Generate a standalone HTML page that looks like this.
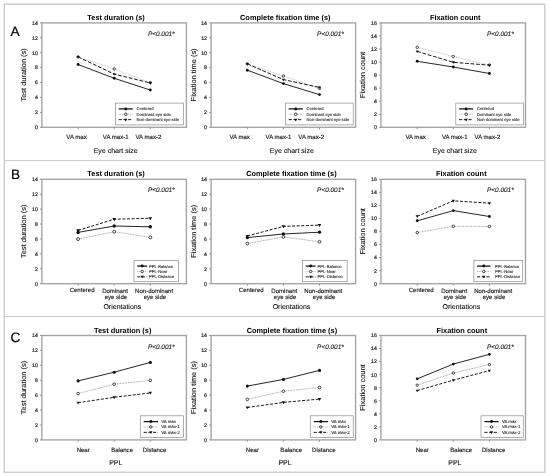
<!DOCTYPE html>
<html lang="en"><head><meta charset="utf-8"><title>Figure</title>
<style>html,body{margin:0;padding:0;background:#fff}body{width:550px;height:476px;overflow:hidden}svg{display:block;font-family:'Liberation Sans', sans-serif;text-rendering:geometricPrecision}</style>
</head><body>
<svg width="550" height="476" viewBox="0 0 550 476">
<rect x="0" y="0" width="550" height="476" fill="#fff"/>
<path d="M4.3 472.3V4.2H544.8V472.3" fill="none" stroke="#cdcdcd" stroke-width="1.4"/>
<line x1="3.6" y1="472.2" x2="545.5" y2="472.2" stroke="#bcbcbc" stroke-width="1.0"/>
<line x1="4.3" y1="160.65" x2="544.8" y2="160.65" stroke="#c4c4c4" stroke-width="0.9"/>
<line x1="4.3" y1="316.6" x2="544.8" y2="316.6" stroke="#c4c4c4" stroke-width="0.9"/>
<text x="10.6" y="36.4" font-size="13.6" text-anchor="start" font-weight="normal" font-style="normal" fill="#000" stroke="#000" stroke-width="0.2">A</text>
<text x="10.9" y="179.3" font-size="13.6" text-anchor="start" font-weight="normal" font-style="normal" fill="#000" stroke="#000" stroke-width="0.2">B</text>
<text x="10.6" y="342.3" font-size="13.6" text-anchor="start" font-weight="normal" font-style="normal" fill="#000" stroke="#000" stroke-width="0.2">C</text>
<g>
<rect x="41.9" y="22.9" width="144.5" height="104.4" fill="none" stroke="#a3a3a3" stroke-width="1.35"/>
<line x1="40" y1="127.3" x2="41.6" y2="127.3" stroke="#777" stroke-width="0.8"/>
<text x="37.8" y="129.15" font-size="5.2" text-anchor="end" font-weight="normal" font-style="normal" fill="#222" stroke="#222" stroke-width="0.18">0</text>
<line x1="40" y1="112.39" x2="41.6" y2="112.39" stroke="#777" stroke-width="0.8"/>
<text x="37.8" y="114.24" font-size="5.2" text-anchor="end" font-weight="normal" font-style="normal" fill="#222" stroke="#222" stroke-width="0.18">2</text>
<line x1="40" y1="97.47" x2="41.6" y2="97.47" stroke="#777" stroke-width="0.8"/>
<text x="37.8" y="99.32" font-size="5.2" text-anchor="end" font-weight="normal" font-style="normal" fill="#222" stroke="#222" stroke-width="0.18">4</text>
<line x1="40" y1="82.56" x2="41.6" y2="82.56" stroke="#777" stroke-width="0.8"/>
<text x="37.8" y="84.41" font-size="5.2" text-anchor="end" font-weight="normal" font-style="normal" fill="#222" stroke="#222" stroke-width="0.18">6</text>
<line x1="40" y1="67.64" x2="41.6" y2="67.64" stroke="#777" stroke-width="0.8"/>
<text x="37.8" y="69.49" font-size="5.2" text-anchor="end" font-weight="normal" font-style="normal" fill="#222" stroke="#222" stroke-width="0.18">8</text>
<line x1="40" y1="52.73" x2="41.6" y2="52.73" stroke="#777" stroke-width="0.8"/>
<text x="37.8" y="54.58" font-size="5.2" text-anchor="end" font-weight="normal" font-style="normal" fill="#222" stroke="#222" stroke-width="0.18">10</text>
<line x1="40" y1="37.81" x2="41.6" y2="37.81" stroke="#777" stroke-width="0.8"/>
<text x="37.8" y="39.66" font-size="5.2" text-anchor="end" font-weight="normal" font-style="normal" fill="#222" stroke="#222" stroke-width="0.18">12</text>
<line x1="40" y1="22.9" x2="41.6" y2="22.9" stroke="#777" stroke-width="0.8"/>
<text x="37.8" y="24.75" font-size="5.2" text-anchor="end" font-weight="normal" font-style="normal" fill="#222" stroke="#222" stroke-width="0.18">14</text>
<line x1="78.1" y1="127.6" x2="78.1" y2="129.2" stroke="#777" stroke-width="0.8"/>
<line x1="114.2" y1="127.6" x2="114.2" y2="129.2" stroke="#777" stroke-width="0.8"/>
<line x1="150.3" y1="127.6" x2="150.3" y2="129.2" stroke="#777" stroke-width="0.8"/>
<text x="116.1" y="19.95" font-size="7.42" text-anchor="middle" font-weight="bold" font-style="normal" fill="#000">Test duration (s)</text>
<text transform="translate(26.3 74.9) rotate(-90) scale(1.05 1)" font-size="7.1" text-anchor="middle" fill="#111" stroke="#111" stroke-width="0.1">Test duration (s)</text>
<text x="147.9" y="36" font-size="6.45" text-anchor="start" font-weight="normal" font-style="italic" fill="#111" stroke="#111" stroke-width="0.1">P&lt;0.001*</text>
<text x="76.5" y="138.6" font-size="6.05" text-anchor="middle" font-weight="normal" font-style="normal" fill="#222" stroke="#222" stroke-width="0.15">VA max</text>
<text x="115.7" y="138.6" font-size="6.05" text-anchor="middle" font-weight="normal" font-style="normal" fill="#222" stroke="#222" stroke-width="0.15">VA max-1</text>
<text x="148.4" y="138.6" font-size="6.05" text-anchor="middle" font-weight="normal" font-style="normal" fill="#222" stroke="#222" stroke-width="0.15">VA max-2</text>
<text x="115.7" y="152.5" font-size="7.0" text-anchor="middle" font-weight="normal" font-style="normal" fill="#111" stroke="#111" stroke-width="0.1">Eye chart size</text>
<polyline points="78.1,64.5 114.2,78.3 150.3,90" fill="none" stroke="#1a1a1a" stroke-width="0.95"/>
<polyline points="78.1,56.9 114.2,68.9 150.3,82.6" fill="none" stroke="#a8a8a8" stroke-width="0.7" stroke-dasharray="0.9 0.7"/>
<polyline points="78.1,56.9 114.2,74.1 150.3,83" fill="none" stroke="#1a1a1a" stroke-width="1.0" stroke-dasharray="3.8 1.7"/>
<circle cx="78.1" cy="64.5" r="1.44" fill="#111"/>
<circle cx="114.2" cy="78.3" r="1.44" fill="#111"/>
<circle cx="150.3" cy="90" r="1.44" fill="#111"/>
<circle cx="78.1" cy="56.9" r="1.22" fill="#fff" stroke="#222" stroke-width="0.85"/>
<circle cx="114.2" cy="68.9" r="1.22" fill="#fff" stroke="#222" stroke-width="0.85"/>
<circle cx="150.3" cy="82.6" r="1.22" fill="#fff" stroke="#222" stroke-width="0.85"/>
<polygon points="76.53,55.94 79.67,55.94 78.1,58.6" fill="#111"/>
<polygon points="112.63,73.14 115.77,73.14 114.2,75.8" fill="#111"/>
<polygon points="148.73,82.04 151.87,82.04 150.3,84.7" fill="#111"/>
<rect x="115.4" y="103.1" width="68.1" height="21.8" fill="#fff" stroke="#8c8c8c" stroke-width="0.7"/>
<polyline points="118.7,108.9 132.8,108.9" fill="none" stroke="#1a1a1a" stroke-width="1.3"/>
<circle cx="125.75" cy="108.9" r="1.48" fill="#111"/>
<text x="136.6" y="110.35" font-size="4.15" text-anchor="start" font-weight="normal" font-style="normal" fill="#333" stroke="#333" stroke-width="0.12">Centered</text>
<polyline points="118.7,114.25 132.8,114.25" fill="none" stroke="#999" stroke-width="0.75" stroke-dasharray="0.9 0.7"/>
<circle cx="125.75" cy="114.25" r="1.26" fill="#fff" stroke="#222" stroke-width="0.85"/>
<text x="136.6" y="115.7" font-size="4.15" text-anchor="start" font-weight="normal" font-style="normal" fill="#333" stroke="#333" stroke-width="0.12">Dominant eye side</text>
<polyline points="118.7,119.65 132.8,119.65" fill="none" stroke="#1a1a1a" stroke-width="1.0" stroke-dasharray="3.1 1.6"/>
<polygon points="124.13,118.66 127.37,118.66 125.75,121.4" fill="#111"/>
<text x="136.6" y="121.1" font-size="4.15" text-anchor="start" font-weight="normal" font-style="normal" fill="#333" stroke="#333" stroke-width="0.12">Non-dominant eye side</text>
</g>
<g>
<rect x="211.1" y="22.9" width="144.5" height="104.4" fill="none" stroke="#a3a3a3" stroke-width="1.35"/>
<line x1="209.2" y1="127.3" x2="210.8" y2="127.3" stroke="#777" stroke-width="0.8"/>
<text x="207" y="129.15" font-size="5.2" text-anchor="end" font-weight="normal" font-style="normal" fill="#222" stroke="#222" stroke-width="0.18">0</text>
<line x1="209.2" y1="112.39" x2="210.8" y2="112.39" stroke="#777" stroke-width="0.8"/>
<text x="207" y="114.24" font-size="5.2" text-anchor="end" font-weight="normal" font-style="normal" fill="#222" stroke="#222" stroke-width="0.18">2</text>
<line x1="209.2" y1="97.47" x2="210.8" y2="97.47" stroke="#777" stroke-width="0.8"/>
<text x="207" y="99.32" font-size="5.2" text-anchor="end" font-weight="normal" font-style="normal" fill="#222" stroke="#222" stroke-width="0.18">4</text>
<line x1="209.2" y1="82.56" x2="210.8" y2="82.56" stroke="#777" stroke-width="0.8"/>
<text x="207" y="84.41" font-size="5.2" text-anchor="end" font-weight="normal" font-style="normal" fill="#222" stroke="#222" stroke-width="0.18">6</text>
<line x1="209.2" y1="67.64" x2="210.8" y2="67.64" stroke="#777" stroke-width="0.8"/>
<text x="207" y="69.49" font-size="5.2" text-anchor="end" font-weight="normal" font-style="normal" fill="#222" stroke="#222" stroke-width="0.18">8</text>
<line x1="209.2" y1="52.73" x2="210.8" y2="52.73" stroke="#777" stroke-width="0.8"/>
<text x="207" y="54.58" font-size="5.2" text-anchor="end" font-weight="normal" font-style="normal" fill="#222" stroke="#222" stroke-width="0.18">10</text>
<line x1="209.2" y1="37.81" x2="210.8" y2="37.81" stroke="#777" stroke-width="0.8"/>
<text x="207" y="39.66" font-size="5.2" text-anchor="end" font-weight="normal" font-style="normal" fill="#222" stroke="#222" stroke-width="0.18">12</text>
<line x1="209.2" y1="22.9" x2="210.8" y2="22.9" stroke="#777" stroke-width="0.8"/>
<text x="207" y="24.75" font-size="5.2" text-anchor="end" font-weight="normal" font-style="normal" fill="#222" stroke="#222" stroke-width="0.18">14</text>
<line x1="247.3" y1="127.6" x2="247.3" y2="129.2" stroke="#777" stroke-width="0.8"/>
<line x1="283.4" y1="127.6" x2="283.4" y2="129.2" stroke="#777" stroke-width="0.8"/>
<line x1="319.5" y1="127.6" x2="319.5" y2="129.2" stroke="#777" stroke-width="0.8"/>
<text x="285.3" y="19.95" font-size="7.42" text-anchor="middle" font-weight="bold" font-style="normal" fill="#000">Complete fixation time (s)</text>
<text transform="translate(195.5 74.9) rotate(-90) scale(1.05 1)" font-size="7.1" text-anchor="middle" fill="#111" stroke="#111" stroke-width="0.1">Fixation time (s)</text>
<text x="317.1" y="36" font-size="6.45" text-anchor="start" font-weight="normal" font-style="italic" fill="#111" stroke="#111" stroke-width="0.1">P&lt;0.001*</text>
<text x="239.7" y="138.6" font-size="6.05" text-anchor="middle" font-weight="normal" font-style="normal" fill="#222" stroke="#222" stroke-width="0.15">VA max</text>
<text x="278.5" y="138.6" font-size="6.05" text-anchor="middle" font-weight="normal" font-style="normal" fill="#222" stroke="#222" stroke-width="0.15">VA max-1</text>
<text x="311.2" y="138.6" font-size="6.05" text-anchor="middle" font-weight="normal" font-style="normal" fill="#222" stroke="#222" stroke-width="0.15">VA max-2</text>
<text x="291.8" y="152.5" font-size="7.0" text-anchor="middle" font-weight="normal" font-style="normal" fill="#111" stroke="#111" stroke-width="0.1">Eye chart size</text>
<polyline points="247.3,70.2 283.4,83.6 319.5,94.6" fill="none" stroke="#1a1a1a" stroke-width="0.95"/>
<polyline points="247.3,63.9 283.4,76 319.5,88.4" fill="none" stroke="#a8a8a8" stroke-width="0.7" stroke-dasharray="0.9 0.7"/>
<polyline points="247.3,63.9 283.4,79.6 319.5,87.4" fill="none" stroke="#1a1a1a" stroke-width="1.0" stroke-dasharray="3.8 1.7"/>
<circle cx="247.3" cy="70.2" r="1.44" fill="#111"/>
<circle cx="283.4" cy="83.6" r="1.44" fill="#111"/>
<circle cx="319.5" cy="94.6" r="1.44" fill="#111"/>
<circle cx="247.3" cy="63.9" r="1.22" fill="#fff" stroke="#222" stroke-width="0.85"/>
<circle cx="283.4" cy="76" r="1.22" fill="#fff" stroke="#222" stroke-width="0.85"/>
<circle cx="319.5" cy="88.4" r="1.22" fill="#fff" stroke="#222" stroke-width="0.85"/>
<polygon points="245.73,62.94 248.87,62.94 247.3,65.6" fill="#111"/>
<polygon points="281.83,78.64 284.97,78.64 283.4,81.3" fill="#111"/>
<polygon points="317.93,86.44 321.07,86.44 319.5,89.1" fill="#111"/>
<rect x="285.4" y="103.1" width="67.8" height="21.8" fill="#fff" stroke="#8c8c8c" stroke-width="0.7"/>
<polyline points="288.7,108.9 302.8,108.9" fill="none" stroke="#1a1a1a" stroke-width="1.3"/>
<circle cx="295.75" cy="108.9" r="1.48" fill="#111"/>
<text x="306.6" y="110.35" font-size="4.15" text-anchor="start" font-weight="normal" font-style="normal" fill="#333" stroke="#333" stroke-width="0.12">Centered</text>
<polyline points="288.7,114.25 302.8,114.25" fill="none" stroke="#999" stroke-width="0.75" stroke-dasharray="0.9 0.7"/>
<circle cx="295.75" cy="114.25" r="1.26" fill="#fff" stroke="#222" stroke-width="0.85"/>
<text x="306.6" y="115.7" font-size="4.15" text-anchor="start" font-weight="normal" font-style="normal" fill="#333" stroke="#333" stroke-width="0.12">Dominant eye side</text>
<polyline points="288.7,119.65 302.8,119.65" fill="none" stroke="#1a1a1a" stroke-width="1.0" stroke-dasharray="3.1 1.6"/>
<polygon points="294.13,118.66 297.37,118.66 295.75,121.4" fill="#111"/>
<text x="306.6" y="121.1" font-size="4.15" text-anchor="start" font-weight="normal" font-style="normal" fill="#333" stroke="#333" stroke-width="0.12">Non-dominant eye side</text>
</g>
<g>
<rect x="381" y="22.9" width="144.5" height="104.4" fill="none" stroke="#a3a3a3" stroke-width="1.35"/>
<line x1="379.1" y1="127.3" x2="380.7" y2="127.3" stroke="#777" stroke-width="0.8"/>
<text x="376.9" y="129.15" font-size="5.2" text-anchor="end" font-weight="normal" font-style="normal" fill="#222" stroke="#222" stroke-width="0.18">0</text>
<line x1="379.1" y1="114.25" x2="380.7" y2="114.25" stroke="#777" stroke-width="0.8"/>
<text x="376.9" y="116.1" font-size="5.2" text-anchor="end" font-weight="normal" font-style="normal" fill="#222" stroke="#222" stroke-width="0.18">2</text>
<line x1="379.1" y1="101.2" x2="380.7" y2="101.2" stroke="#777" stroke-width="0.8"/>
<text x="376.9" y="103.05" font-size="5.2" text-anchor="end" font-weight="normal" font-style="normal" fill="#222" stroke="#222" stroke-width="0.18">4</text>
<line x1="379.1" y1="88.15" x2="380.7" y2="88.15" stroke="#777" stroke-width="0.8"/>
<text x="376.9" y="90" font-size="5.2" text-anchor="end" font-weight="normal" font-style="normal" fill="#222" stroke="#222" stroke-width="0.18">6</text>
<line x1="379.1" y1="75.1" x2="380.7" y2="75.1" stroke="#777" stroke-width="0.8"/>
<text x="376.9" y="76.95" font-size="5.2" text-anchor="end" font-weight="normal" font-style="normal" fill="#222" stroke="#222" stroke-width="0.18">8</text>
<line x1="379.1" y1="62.05" x2="380.7" y2="62.05" stroke="#777" stroke-width="0.8"/>
<text x="376.9" y="63.9" font-size="5.2" text-anchor="end" font-weight="normal" font-style="normal" fill="#222" stroke="#222" stroke-width="0.18">10</text>
<line x1="379.1" y1="49" x2="380.7" y2="49" stroke="#777" stroke-width="0.8"/>
<text x="376.9" y="50.85" font-size="5.2" text-anchor="end" font-weight="normal" font-style="normal" fill="#222" stroke="#222" stroke-width="0.18">12</text>
<line x1="379.1" y1="35.95" x2="380.7" y2="35.95" stroke="#777" stroke-width="0.8"/>
<text x="376.9" y="37.8" font-size="5.2" text-anchor="end" font-weight="normal" font-style="normal" fill="#222" stroke="#222" stroke-width="0.18">14</text>
<line x1="379.1" y1="22.9" x2="380.7" y2="22.9" stroke="#777" stroke-width="0.8"/>
<text x="376.9" y="24.75" font-size="5.2" text-anchor="end" font-weight="normal" font-style="normal" fill="#222" stroke="#222" stroke-width="0.18">16</text>
<line x1="417.2" y1="127.6" x2="417.2" y2="129.2" stroke="#777" stroke-width="0.8"/>
<line x1="453.3" y1="127.6" x2="453.3" y2="129.2" stroke="#777" stroke-width="0.8"/>
<line x1="489.4" y1="127.6" x2="489.4" y2="129.2" stroke="#777" stroke-width="0.8"/>
<text x="455.2" y="19.95" font-size="7.42" text-anchor="middle" font-weight="bold" font-style="normal" fill="#000">Fixation count</text>
<text transform="translate(365.4 74.9) rotate(-90) scale(1.05 1)" font-size="7.1" text-anchor="middle" fill="#111" stroke="#111" stroke-width="0.1">Fixation count</text>
<text x="487" y="36" font-size="6.45" text-anchor="start" font-weight="normal" font-style="italic" fill="#111" stroke="#111" stroke-width="0.1">P&lt;0.001*</text>
<text x="415.6" y="138.6" font-size="6.05" text-anchor="middle" font-weight="normal" font-style="normal" fill="#222" stroke="#222" stroke-width="0.15">VA max</text>
<text x="454.8" y="138.6" font-size="6.05" text-anchor="middle" font-weight="normal" font-style="normal" fill="#222" stroke="#222" stroke-width="0.15">VA max-1</text>
<text x="487.5" y="138.6" font-size="6.05" text-anchor="middle" font-weight="normal" font-style="normal" fill="#222" stroke="#222" stroke-width="0.15">VA max-2</text>
<text x="454.8" y="152.5" font-size="7.0" text-anchor="middle" font-weight="normal" font-style="normal" fill="#111" stroke="#111" stroke-width="0.1">Eye chart size</text>
<polyline points="417.2,61.3 453.3,67 489.4,73.5" fill="none" stroke="#1a1a1a" stroke-width="0.95"/>
<polyline points="417.2,47.3 453.3,56.5 489.4,65" fill="none" stroke="#a8a8a8" stroke-width="0.7" stroke-dasharray="0.9 0.7"/>
<polyline points="417.2,51.4 453.3,62.3 489.4,65.2" fill="none" stroke="#1a1a1a" stroke-width="1.0" stroke-dasharray="3.8 1.7"/>
<circle cx="417.2" cy="61.3" r="1.44" fill="#111"/>
<circle cx="453.3" cy="67" r="1.44" fill="#111"/>
<circle cx="489.4" cy="73.5" r="1.44" fill="#111"/>
<circle cx="417.2" cy="47.3" r="1.22" fill="#fff" stroke="#222" stroke-width="0.85"/>
<circle cx="453.3" cy="56.5" r="1.22" fill="#fff" stroke="#222" stroke-width="0.85"/>
<circle cx="489.4" cy="65" r="1.22" fill="#fff" stroke="#222" stroke-width="0.85"/>
<polygon points="415.63,50.44 418.77,50.44 417.2,53.1" fill="#111"/>
<polygon points="451.73,61.34 454.87,61.34 453.3,64" fill="#111"/>
<polygon points="487.83,64.24 490.97,64.24 489.4,66.9" fill="#111"/>
<rect x="455.8" y="103.1" width="67.7" height="21.8" fill="#fff" stroke="#8c8c8c" stroke-width="0.7"/>
<polyline points="459.1,108.9 473.2,108.9" fill="none" stroke="#1a1a1a" stroke-width="1.3"/>
<circle cx="466.15" cy="108.9" r="1.48" fill="#111"/>
<text x="477" y="110.35" font-size="4.15" text-anchor="start" font-weight="normal" font-style="normal" fill="#333" stroke="#333" stroke-width="0.12">Centered</text>
<polyline points="459.1,114.25 473.2,114.25" fill="none" stroke="#999" stroke-width="0.75" stroke-dasharray="0.9 0.7"/>
<circle cx="466.15" cy="114.25" r="1.26" fill="#fff" stroke="#222" stroke-width="0.85"/>
<text x="477" y="115.7" font-size="4.15" text-anchor="start" font-weight="normal" font-style="normal" fill="#333" stroke="#333" stroke-width="0.12">Dominant eye side</text>
<polyline points="459.1,119.65 473.2,119.65" fill="none" stroke="#1a1a1a" stroke-width="1.0" stroke-dasharray="3.1 1.6"/>
<polygon points="464.53,118.66 467.77,118.66 466.15,121.4" fill="#111"/>
<text x="477" y="121.1" font-size="4.15" text-anchor="start" font-weight="normal" font-style="normal" fill="#333" stroke="#333" stroke-width="0.12">Non-dominant eye side</text>
</g>
<g>
<rect x="41.9" y="179.3" width="144.5" height="104.4" fill="none" stroke="#a3a3a3" stroke-width="1.35"/>
<line x1="40" y1="283.7" x2="41.6" y2="283.7" stroke="#777" stroke-width="0.8"/>
<text x="37.8" y="285.55" font-size="5.2" text-anchor="end" font-weight="normal" font-style="normal" fill="#222" stroke="#222" stroke-width="0.18">0</text>
<line x1="40" y1="268.79" x2="41.6" y2="268.79" stroke="#777" stroke-width="0.8"/>
<text x="37.8" y="270.64" font-size="5.2" text-anchor="end" font-weight="normal" font-style="normal" fill="#222" stroke="#222" stroke-width="0.18">2</text>
<line x1="40" y1="253.87" x2="41.6" y2="253.87" stroke="#777" stroke-width="0.8"/>
<text x="37.8" y="255.72" font-size="5.2" text-anchor="end" font-weight="normal" font-style="normal" fill="#222" stroke="#222" stroke-width="0.18">4</text>
<line x1="40" y1="238.96" x2="41.6" y2="238.96" stroke="#777" stroke-width="0.8"/>
<text x="37.8" y="240.81" font-size="5.2" text-anchor="end" font-weight="normal" font-style="normal" fill="#222" stroke="#222" stroke-width="0.18">6</text>
<line x1="40" y1="224.04" x2="41.6" y2="224.04" stroke="#777" stroke-width="0.8"/>
<text x="37.8" y="225.89" font-size="5.2" text-anchor="end" font-weight="normal" font-style="normal" fill="#222" stroke="#222" stroke-width="0.18">8</text>
<line x1="40" y1="209.13" x2="41.6" y2="209.13" stroke="#777" stroke-width="0.8"/>
<text x="37.8" y="210.98" font-size="5.2" text-anchor="end" font-weight="normal" font-style="normal" fill="#222" stroke="#222" stroke-width="0.18">10</text>
<line x1="40" y1="194.21" x2="41.6" y2="194.21" stroke="#777" stroke-width="0.8"/>
<text x="37.8" y="196.06" font-size="5.2" text-anchor="end" font-weight="normal" font-style="normal" fill="#222" stroke="#222" stroke-width="0.18">12</text>
<line x1="40" y1="179.3" x2="41.6" y2="179.3" stroke="#777" stroke-width="0.8"/>
<text x="37.8" y="181.15" font-size="5.2" text-anchor="end" font-weight="normal" font-style="normal" fill="#222" stroke="#222" stroke-width="0.18">14</text>
<line x1="78.1" y1="284" x2="78.1" y2="285.6" stroke="#777" stroke-width="0.8"/>
<line x1="114.2" y1="284" x2="114.2" y2="285.6" stroke="#777" stroke-width="0.8"/>
<line x1="150.3" y1="284" x2="150.3" y2="285.6" stroke="#777" stroke-width="0.8"/>
<text x="116.1" y="176.35" font-size="7.42" text-anchor="middle" font-weight="bold" font-style="normal" fill="#000">Test duration (s)</text>
<text transform="translate(26.3 231.3) rotate(-90) scale(1.05 1)" font-size="7.1" text-anchor="middle" fill="#111" stroke="#111" stroke-width="0.1">Test duration (s)</text>
<text x="147.9" y="192.4" font-size="6.45" text-anchor="start" font-weight="normal" font-style="italic" fill="#111" stroke="#111" stroke-width="0.1">P&lt;0.001*</text>
<text x="82.1" y="291.9" font-size="6.05" text-anchor="middle" font-weight="normal" font-style="normal" fill="#222" stroke="#222" stroke-width="0.15">Centered</text>
<text x="115.1" y="292.5" font-size="6.05" text-anchor="middle" font-weight="normal" font-style="normal" fill="#222" stroke="#222" stroke-width="0.15">Dominant</text>
<text x="115.9" y="299.2" font-size="6.05" text-anchor="middle" font-weight="normal" font-style="normal" fill="#222" stroke="#222" stroke-width="0.15">eye side</text>
<text x="154.1" y="292.5" font-size="6.05" text-anchor="middle" font-weight="normal" font-style="normal" fill="#222" stroke="#222" stroke-width="0.15">Non-dominant</text>
<text x="154.9" y="299.2" font-size="6.05" text-anchor="middle" font-weight="normal" font-style="normal" fill="#222" stroke="#222" stroke-width="0.15">eye side</text>
<text x="122.3" y="308.9" font-size="7.0" text-anchor="middle" font-weight="normal" font-style="normal" fill="#111" stroke="#111" stroke-width="0.1">Orientations</text>
<polyline points="78.1,232.4 114.2,226 150.3,226.8" fill="none" stroke="#1a1a1a" stroke-width="0.95"/>
<polyline points="78.1,239.1 114.2,231.7 150.3,237.4" fill="none" stroke="#8c8c8c" stroke-width="0.8" stroke-dasharray="0.9 0.7"/>
<polyline points="78.1,230.4 114.2,219.2 150.3,218.3" fill="none" stroke="#1a1a1a" stroke-width="1.0" stroke-dasharray="3.0 1.6"/>
<circle cx="78.1" cy="232.4" r="1.73" fill="#111"/>
<circle cx="114.2" cy="226" r="1.73" fill="#111"/>
<circle cx="150.3" cy="226.8" r="1.73" fill="#111"/>
<circle cx="78.1" cy="239.1" r="1.47" fill="#fff" stroke="#222" stroke-width="0.85"/>
<circle cx="114.2" cy="231.7" r="1.47" fill="#fff" stroke="#222" stroke-width="0.85"/>
<circle cx="150.3" cy="237.4" r="1.47" fill="#fff" stroke="#222" stroke-width="0.85"/>
<polygon points="76.21,229.25 79.99,229.25 78.1,232.45" fill="#111"/>
<polygon points="112.31,218.04 116.09,218.04 114.2,221.25" fill="#111"/>
<polygon points="148.41,217.15 152.19,217.15 150.3,220.35" fill="#111"/>
<rect x="134" y="260.3" width="44.4" height="21.4" fill="#fff" stroke="#8c8c8c" stroke-width="0.7"/>
<polyline points="137.2,266.1 147.1,266.1" fill="none" stroke="#1a1a1a" stroke-width="1.3"/>
<circle cx="142.15" cy="266.1" r="1.48" fill="#111"/>
<text x="149" y="267.55" font-size="4.15" text-anchor="start" font-weight="normal" font-style="normal" fill="#333" stroke="#333" stroke-width="0.12">PPL-Balance</text>
<polyline points="137.2,271.45 147.1,271.45" fill="none" stroke="#999" stroke-width="0.75" stroke-dasharray="0.9 0.7"/>
<circle cx="142.15" cy="271.45" r="1.26" fill="#fff" stroke="#222" stroke-width="0.85"/>
<text x="149" y="272.9" font-size="4.15" text-anchor="start" font-weight="normal" font-style="normal" fill="#333" stroke="#333" stroke-width="0.12">PPL-Near</text>
<polyline points="137.2,276.85 147.1,276.85" fill="none" stroke="#1a1a1a" stroke-width="1.0" stroke-dasharray="3.1 1.6"/>
<polygon points="140.53,275.86 143.77,275.86 142.15,278.61" fill="#111"/>
<text x="149" y="278.3" font-size="4.15" text-anchor="start" font-weight="normal" font-style="normal" fill="#333" stroke="#333" stroke-width="0.12">PPL-Distance</text>
</g>
<g>
<rect x="211.1" y="179.3" width="144.5" height="104.4" fill="none" stroke="#a3a3a3" stroke-width="1.35"/>
<line x1="209.2" y1="283.7" x2="210.8" y2="283.7" stroke="#777" stroke-width="0.8"/>
<text x="207" y="285.55" font-size="5.2" text-anchor="end" font-weight="normal" font-style="normal" fill="#222" stroke="#222" stroke-width="0.18">0</text>
<line x1="209.2" y1="268.79" x2="210.8" y2="268.79" stroke="#777" stroke-width="0.8"/>
<text x="207" y="270.64" font-size="5.2" text-anchor="end" font-weight="normal" font-style="normal" fill="#222" stroke="#222" stroke-width="0.18">2</text>
<line x1="209.2" y1="253.87" x2="210.8" y2="253.87" stroke="#777" stroke-width="0.8"/>
<text x="207" y="255.72" font-size="5.2" text-anchor="end" font-weight="normal" font-style="normal" fill="#222" stroke="#222" stroke-width="0.18">4</text>
<line x1="209.2" y1="238.96" x2="210.8" y2="238.96" stroke="#777" stroke-width="0.8"/>
<text x="207" y="240.81" font-size="5.2" text-anchor="end" font-weight="normal" font-style="normal" fill="#222" stroke="#222" stroke-width="0.18">6</text>
<line x1="209.2" y1="224.04" x2="210.8" y2="224.04" stroke="#777" stroke-width="0.8"/>
<text x="207" y="225.89" font-size="5.2" text-anchor="end" font-weight="normal" font-style="normal" fill="#222" stroke="#222" stroke-width="0.18">8</text>
<line x1="209.2" y1="209.13" x2="210.8" y2="209.13" stroke="#777" stroke-width="0.8"/>
<text x="207" y="210.98" font-size="5.2" text-anchor="end" font-weight="normal" font-style="normal" fill="#222" stroke="#222" stroke-width="0.18">10</text>
<line x1="209.2" y1="194.21" x2="210.8" y2="194.21" stroke="#777" stroke-width="0.8"/>
<text x="207" y="196.06" font-size="5.2" text-anchor="end" font-weight="normal" font-style="normal" fill="#222" stroke="#222" stroke-width="0.18">12</text>
<line x1="209.2" y1="179.3" x2="210.8" y2="179.3" stroke="#777" stroke-width="0.8"/>
<text x="207" y="181.15" font-size="5.2" text-anchor="end" font-weight="normal" font-style="normal" fill="#222" stroke="#222" stroke-width="0.18">14</text>
<line x1="247.3" y1="284" x2="247.3" y2="285.6" stroke="#777" stroke-width="0.8"/>
<line x1="283.4" y1="284" x2="283.4" y2="285.6" stroke="#777" stroke-width="0.8"/>
<line x1="319.5" y1="284" x2="319.5" y2="285.6" stroke="#777" stroke-width="0.8"/>
<text x="291.4" y="176.35" font-size="7.42" text-anchor="middle" font-weight="bold" font-style="normal" fill="#000">Complete fixation time (s)</text>
<text transform="translate(195.5 231.3) rotate(-90) scale(1.05 1)" font-size="7.1" text-anchor="middle" fill="#111" stroke="#111" stroke-width="0.1">Fixation time (s)</text>
<text x="317.1" y="192.4" font-size="6.45" text-anchor="start" font-weight="normal" font-style="italic" fill="#111" stroke="#111" stroke-width="0.1">P&lt;0.001*</text>
<text x="251.3" y="291.9" font-size="6.05" text-anchor="middle" font-weight="normal" font-style="normal" fill="#222" stroke="#222" stroke-width="0.15">Centered</text>
<text x="284.3" y="292.5" font-size="6.05" text-anchor="middle" font-weight="normal" font-style="normal" fill="#222" stroke="#222" stroke-width="0.15">Dominant</text>
<text x="285.1" y="299.2" font-size="6.05" text-anchor="middle" font-weight="normal" font-style="normal" fill="#222" stroke="#222" stroke-width="0.15">eye side</text>
<text x="323.3" y="292.5" font-size="6.05" text-anchor="middle" font-weight="normal" font-style="normal" fill="#222" stroke="#222" stroke-width="0.15">Non-dominant</text>
<text x="324.1" y="299.2" font-size="6.05" text-anchor="middle" font-weight="normal" font-style="normal" fill="#222" stroke="#222" stroke-width="0.15">eye side</text>
<text x="291.5" y="308.9" font-size="7.0" text-anchor="middle" font-weight="normal" font-style="normal" fill="#111" stroke="#111" stroke-width="0.1">Orientations</text>
<polyline points="247.3,237.6 283.4,234 319.5,232.2" fill="none" stroke="#1a1a1a" stroke-width="0.95"/>
<polyline points="247.3,243.6 283.4,236.9 319.5,241.8" fill="none" stroke="#8c8c8c" stroke-width="0.8" stroke-dasharray="0.9 0.7"/>
<polyline points="247.3,236 283.4,226.4 319.5,225.1" fill="none" stroke="#1a1a1a" stroke-width="1.0" stroke-dasharray="3.0 1.6"/>
<circle cx="247.3" cy="237.6" r="1.65" fill="#111"/>
<circle cx="283.4" cy="234" r="1.65" fill="#111"/>
<circle cx="319.5" cy="232.2" r="1.65" fill="#111"/>
<circle cx="247.3" cy="243.6" r="1.4" fill="#fff" stroke="#222" stroke-width="0.85"/>
<circle cx="283.4" cy="236.9" r="1.4" fill="#fff" stroke="#222" stroke-width="0.85"/>
<circle cx="319.5" cy="241.8" r="1.4" fill="#fff" stroke="#222" stroke-width="0.85"/>
<polygon points="245.5,234.9 249.1,234.9 247.3,237.95" fill="#111"/>
<polygon points="281.6,225.3 285.2,225.3 283.4,228.35" fill="#111"/>
<polygon points="317.7,224 321.3,224 319.5,227.05" fill="#111"/>
<rect x="302.5" y="260.3" width="44.7" height="21.4" fill="#fff" stroke="#8c8c8c" stroke-width="0.7"/>
<polyline points="305.7,266.1 315.6,266.1" fill="none" stroke="#1a1a1a" stroke-width="1.3"/>
<circle cx="310.65" cy="266.1" r="1.48" fill="#111"/>
<text x="317.5" y="267.55" font-size="4.15" text-anchor="start" font-weight="normal" font-style="normal" fill="#333" stroke="#333" stroke-width="0.12">PPL-Balance</text>
<polyline points="305.7,271.45 315.6,271.45" fill="none" stroke="#999" stroke-width="0.75" stroke-dasharray="0.9 0.7"/>
<circle cx="310.65" cy="271.45" r="1.26" fill="#fff" stroke="#222" stroke-width="0.85"/>
<text x="317.5" y="272.9" font-size="4.15" text-anchor="start" font-weight="normal" font-style="normal" fill="#333" stroke="#333" stroke-width="0.12">PPL-Near</text>
<polyline points="305.7,276.85 315.6,276.85" fill="none" stroke="#1a1a1a" stroke-width="1.0" stroke-dasharray="3.1 1.6"/>
<polygon points="309.03,275.86 312.27,275.86 310.65,278.61" fill="#111"/>
<text x="317.5" y="278.3" font-size="4.15" text-anchor="start" font-weight="normal" font-style="normal" fill="#333" stroke="#333" stroke-width="0.12">PPL-Distance</text>
</g>
<g>
<rect x="381" y="179.3" width="144.5" height="104.4" fill="none" stroke="#a3a3a3" stroke-width="1.35"/>
<line x1="379.1" y1="283.7" x2="380.7" y2="283.7" stroke="#777" stroke-width="0.8"/>
<text x="376.9" y="285.55" font-size="5.2" text-anchor="end" font-weight="normal" font-style="normal" fill="#222" stroke="#222" stroke-width="0.18">0</text>
<line x1="379.1" y1="270.65" x2="380.7" y2="270.65" stroke="#777" stroke-width="0.8"/>
<text x="376.9" y="272.5" font-size="5.2" text-anchor="end" font-weight="normal" font-style="normal" fill="#222" stroke="#222" stroke-width="0.18">2</text>
<line x1="379.1" y1="257.6" x2="380.7" y2="257.6" stroke="#777" stroke-width="0.8"/>
<text x="376.9" y="259.45" font-size="5.2" text-anchor="end" font-weight="normal" font-style="normal" fill="#222" stroke="#222" stroke-width="0.18">4</text>
<line x1="379.1" y1="244.55" x2="380.7" y2="244.55" stroke="#777" stroke-width="0.8"/>
<text x="376.9" y="246.4" font-size="5.2" text-anchor="end" font-weight="normal" font-style="normal" fill="#222" stroke="#222" stroke-width="0.18">6</text>
<line x1="379.1" y1="231.5" x2="380.7" y2="231.5" stroke="#777" stroke-width="0.8"/>
<text x="376.9" y="233.35" font-size="5.2" text-anchor="end" font-weight="normal" font-style="normal" fill="#222" stroke="#222" stroke-width="0.18">8</text>
<line x1="379.1" y1="218.45" x2="380.7" y2="218.45" stroke="#777" stroke-width="0.8"/>
<text x="376.9" y="220.3" font-size="5.2" text-anchor="end" font-weight="normal" font-style="normal" fill="#222" stroke="#222" stroke-width="0.18">10</text>
<line x1="379.1" y1="205.4" x2="380.7" y2="205.4" stroke="#777" stroke-width="0.8"/>
<text x="376.9" y="207.25" font-size="5.2" text-anchor="end" font-weight="normal" font-style="normal" fill="#222" stroke="#222" stroke-width="0.18">12</text>
<line x1="379.1" y1="192.35" x2="380.7" y2="192.35" stroke="#777" stroke-width="0.8"/>
<text x="376.9" y="194.2" font-size="5.2" text-anchor="end" font-weight="normal" font-style="normal" fill="#222" stroke="#222" stroke-width="0.18">14</text>
<line x1="379.1" y1="179.3" x2="380.7" y2="179.3" stroke="#777" stroke-width="0.8"/>
<text x="376.9" y="181.15" font-size="5.2" text-anchor="end" font-weight="normal" font-style="normal" fill="#222" stroke="#222" stroke-width="0.18">16</text>
<line x1="417.2" y1="284" x2="417.2" y2="285.6" stroke="#777" stroke-width="0.8"/>
<line x1="453.3" y1="284" x2="453.3" y2="285.6" stroke="#777" stroke-width="0.8"/>
<line x1="489.4" y1="284" x2="489.4" y2="285.6" stroke="#777" stroke-width="0.8"/>
<text x="461.3" y="176.35" font-size="7.42" text-anchor="middle" font-weight="bold" font-style="normal" fill="#000">Fixation count</text>
<text transform="translate(365.4 231.3) rotate(-90) scale(1.05 1)" font-size="7.1" text-anchor="middle" fill="#111" stroke="#111" stroke-width="0.1">Fixation count</text>
<text x="487" y="192.4" font-size="6.45" text-anchor="start" font-weight="normal" font-style="italic" fill="#111" stroke="#111" stroke-width="0.1">P&lt;0.001*</text>
<text x="421.2" y="291.9" font-size="6.05" text-anchor="middle" font-weight="normal" font-style="normal" fill="#222" stroke="#222" stroke-width="0.15">Centered</text>
<text x="454.2" y="292.5" font-size="6.05" text-anchor="middle" font-weight="normal" font-style="normal" fill="#222" stroke="#222" stroke-width="0.15">Dominant</text>
<text x="455" y="299.2" font-size="6.05" text-anchor="middle" font-weight="normal" font-style="normal" fill="#222" stroke="#222" stroke-width="0.15">eye side</text>
<text x="493.2" y="292.5" font-size="6.05" text-anchor="middle" font-weight="normal" font-style="normal" fill="#222" stroke="#222" stroke-width="0.15">Non-dominant</text>
<text x="494" y="299.2" font-size="6.05" text-anchor="middle" font-weight="normal" font-style="normal" fill="#222" stroke="#222" stroke-width="0.15">eye side</text>
<text x="461.4" y="308.9" font-size="7.0" text-anchor="middle" font-weight="normal" font-style="normal" fill="#111" stroke="#111" stroke-width="0.1">Orientations</text>
<polyline points="417.2,220.8 453.3,210.6 489.4,216.5" fill="none" stroke="#1a1a1a" stroke-width="0.95"/>
<polyline points="417.2,232.6 453.3,226.3 489.4,226.5" fill="none" stroke="#8c8c8c" stroke-width="0.8" stroke-dasharray="0.9 0.7"/>
<polyline points="417.2,216.3 453.3,200.8 489.4,203.2" fill="none" stroke="#1a1a1a" stroke-width="1.0" stroke-dasharray="3.0 1.6"/>
<circle cx="417.2" cy="220.8" r="1.44" fill="#111"/>
<circle cx="453.3" cy="210.6" r="1.44" fill="#111"/>
<circle cx="489.4" cy="216.5" r="1.44" fill="#111"/>
<circle cx="417.2" cy="232.6" r="1.22" fill="#fff" stroke="#222" stroke-width="0.85"/>
<circle cx="453.3" cy="226.3" r="1.22" fill="#fff" stroke="#222" stroke-width="0.85"/>
<circle cx="489.4" cy="226.5" r="1.22" fill="#fff" stroke="#222" stroke-width="0.85"/>
<polygon points="415.63,215.34 418.77,215.34 417.2,218" fill="#111"/>
<polygon points="451.73,199.84 454.87,199.84 453.3,202.5" fill="#111"/>
<polygon points="487.83,202.24 490.97,202.24 489.4,204.9" fill="#111"/>
<rect x="473.9" y="260.3" width="48.8" height="21.4" fill="#fff" stroke="#8c8c8c" stroke-width="0.7"/>
<polyline points="477.1,266.1 490.5,266.1" fill="none" stroke="#1a1a1a" stroke-width="1.3"/>
<circle cx="483.8" cy="266.1" r="1.48" fill="#111"/>
<text x="495" y="267.55" font-size="4.15" text-anchor="start" font-weight="normal" font-style="normal" fill="#333" stroke="#333" stroke-width="0.12">PPL-Balance</text>
<polyline points="477.1,271.45 490.5,271.45" fill="none" stroke="#999" stroke-width="0.75" stroke-dasharray="0.9 0.7"/>
<circle cx="483.8" cy="271.45" r="1.26" fill="#fff" stroke="#222" stroke-width="0.85"/>
<text x="495" y="272.9" font-size="4.15" text-anchor="start" font-weight="normal" font-style="normal" fill="#333" stroke="#333" stroke-width="0.12">PPL-Near</text>
<polyline points="477.1,276.85 490.5,276.85" fill="none" stroke="#1a1a1a" stroke-width="1.0" stroke-dasharray="3.1 1.6"/>
<polygon points="482.18,275.86 485.42,275.86 483.8,278.61" fill="#111"/>
<text x="495" y="278.3" font-size="4.15" text-anchor="start" font-weight="normal" font-style="normal" fill="#333" stroke="#333" stroke-width="0.12">PPL-Distance</text>
</g>
<g>
<rect x="41.9" y="335.5" width="144.5" height="104.4" fill="none" stroke="#a3a3a3" stroke-width="1.35"/>
<line x1="40" y1="439.9" x2="41.6" y2="439.9" stroke="#777" stroke-width="0.8"/>
<text x="37.8" y="441.75" font-size="5.2" text-anchor="end" font-weight="normal" font-style="normal" fill="#222" stroke="#222" stroke-width="0.18">0</text>
<line x1="40" y1="424.99" x2="41.6" y2="424.99" stroke="#777" stroke-width="0.8"/>
<text x="37.8" y="426.84" font-size="5.2" text-anchor="end" font-weight="normal" font-style="normal" fill="#222" stroke="#222" stroke-width="0.18">2</text>
<line x1="40" y1="410.07" x2="41.6" y2="410.07" stroke="#777" stroke-width="0.8"/>
<text x="37.8" y="411.92" font-size="5.2" text-anchor="end" font-weight="normal" font-style="normal" fill="#222" stroke="#222" stroke-width="0.18">4</text>
<line x1="40" y1="395.16" x2="41.6" y2="395.16" stroke="#777" stroke-width="0.8"/>
<text x="37.8" y="397.01" font-size="5.2" text-anchor="end" font-weight="normal" font-style="normal" fill="#222" stroke="#222" stroke-width="0.18">6</text>
<line x1="40" y1="380.24" x2="41.6" y2="380.24" stroke="#777" stroke-width="0.8"/>
<text x="37.8" y="382.09" font-size="5.2" text-anchor="end" font-weight="normal" font-style="normal" fill="#222" stroke="#222" stroke-width="0.18">8</text>
<line x1="40" y1="365.33" x2="41.6" y2="365.33" stroke="#777" stroke-width="0.8"/>
<text x="37.8" y="367.18" font-size="5.2" text-anchor="end" font-weight="normal" font-style="normal" fill="#222" stroke="#222" stroke-width="0.18">10</text>
<line x1="40" y1="350.41" x2="41.6" y2="350.41" stroke="#777" stroke-width="0.8"/>
<text x="37.8" y="352.26" font-size="5.2" text-anchor="end" font-weight="normal" font-style="normal" fill="#222" stroke="#222" stroke-width="0.18">12</text>
<line x1="40" y1="335.5" x2="41.6" y2="335.5" stroke="#777" stroke-width="0.8"/>
<text x="37.8" y="337.35" font-size="5.2" text-anchor="end" font-weight="normal" font-style="normal" fill="#222" stroke="#222" stroke-width="0.18">14</text>
<line x1="78.1" y1="440.2" x2="78.1" y2="441.8" stroke="#777" stroke-width="0.8"/>
<line x1="114.2" y1="440.2" x2="114.2" y2="441.8" stroke="#777" stroke-width="0.8"/>
<line x1="150.3" y1="440.2" x2="150.3" y2="441.8" stroke="#777" stroke-width="0.8"/>
<text x="122.7" y="332.55" font-size="7.42" text-anchor="middle" font-weight="bold" font-style="normal" fill="#000">Test duration (s)</text>
<text transform="translate(26.3 387.5) rotate(-90) scale(1.05 1)" font-size="7.1" text-anchor="middle" fill="#111" stroke="#111" stroke-width="0.1">Test duration (s)</text>
<text x="147.9" y="348.6" font-size="6.45" text-anchor="start" font-weight="normal" font-style="italic" fill="#111" stroke="#111" stroke-width="0.1">P&lt;0.001*</text>
<text x="83.2" y="451.55" font-size="6.05" text-anchor="middle" font-weight="normal" font-style="normal" fill="#222" stroke="#222" stroke-width="0.15">Near</text>
<text x="122.1" y="451.55" font-size="6.05" text-anchor="middle" font-weight="normal" font-style="normal" fill="#222" stroke="#222" stroke-width="0.15">Balance</text>
<text x="154.6" y="451.55" font-size="6.05" text-anchor="middle" font-weight="normal" font-style="normal" fill="#222" stroke="#222" stroke-width="0.15">Distance</text>
<text x="115.8" y="465.1" font-size="7.0" text-anchor="middle" font-weight="normal" font-style="normal" fill="#111" stroke="#111" stroke-width="0.1">PPL</text>
<polyline points="78.1,380.9 114.2,372.2 150.3,362.4" fill="none" stroke="#1a1a1a" stroke-width="0.95"/>
<polyline points="78.1,393.6 114.2,384.2 150.3,380.4" fill="none" stroke="#8c8c8c" stroke-width="0.8" stroke-dasharray="0.9 0.7"/>
<polyline points="78.1,402.7 114.2,397.3 150.3,392.9" fill="none" stroke="#1a1a1a" stroke-width="1.0" stroke-dasharray="3.0 1.6"/>
<circle cx="78.1" cy="380.9" r="1.55" fill="#111"/>
<circle cx="114.2" cy="372.2" r="1.55" fill="#111"/>
<circle cx="150.3" cy="362.4" r="1.55" fill="#111"/>
<circle cx="78.1" cy="393.6" r="1.32" fill="#fff" stroke="#222" stroke-width="0.85"/>
<circle cx="114.2" cy="384.2" r="1.32" fill="#fff" stroke="#222" stroke-width="0.85"/>
<circle cx="150.3" cy="380.4" r="1.32" fill="#fff" stroke="#222" stroke-width="0.85"/>
<polygon points="76.41,401.67 79.79,401.67 78.1,404.53" fill="#111"/>
<polygon points="112.51,396.27 115.89,396.27 114.2,399.13" fill="#111"/>
<polygon points="148.61,391.87 151.99,391.87 150.3,394.73" fill="#111"/>
<rect x="140.3" y="415.8" width="43.2" height="21.8" fill="#fff" stroke="#8c8c8c" stroke-width="0.7"/>
<polyline points="143.7,421.6 158,421.6" fill="none" stroke="#1a1a1a" stroke-width="1.3"/>
<circle cx="150.85" cy="421.6" r="1.48" fill="#111"/>
<text x="161.2" y="423.05" font-size="4.35" text-anchor="start" font-weight="normal" font-style="normal" fill="#333" stroke="#333" stroke-width="0.12">VA max</text>
<polyline points="143.7,426.95 158,426.95" fill="none" stroke="#999" stroke-width="0.75" stroke-dasharray="0.9 0.7"/>
<circle cx="150.85" cy="426.95" r="1.26" fill="#fff" stroke="#222" stroke-width="0.85"/>
<text x="161.2" y="428.4" font-size="4.35" text-anchor="start" font-weight="normal" font-style="normal" fill="#333" stroke="#333" stroke-width="0.12">VA max-1</text>
<polyline points="143.7,432.35 158,432.35" fill="none" stroke="#1a1a1a" stroke-width="1.0" stroke-dasharray="3.1 1.6"/>
<polygon points="149.23,431.36 152.47,431.36 150.85,434.11" fill="#111"/>
<text x="161.2" y="433.8" font-size="4.35" text-anchor="start" font-weight="normal" font-style="normal" fill="#333" stroke="#333" stroke-width="0.12">VA max-2</text>
</g>
<g>
<rect x="211.1" y="335.5" width="144.5" height="104.4" fill="none" stroke="#a3a3a3" stroke-width="1.35"/>
<line x1="209.2" y1="439.9" x2="210.8" y2="439.9" stroke="#777" stroke-width="0.8"/>
<text x="207" y="441.75" font-size="5.2" text-anchor="end" font-weight="normal" font-style="normal" fill="#222" stroke="#222" stroke-width="0.18">0</text>
<line x1="209.2" y1="424.99" x2="210.8" y2="424.99" stroke="#777" stroke-width="0.8"/>
<text x="207" y="426.84" font-size="5.2" text-anchor="end" font-weight="normal" font-style="normal" fill="#222" stroke="#222" stroke-width="0.18">2</text>
<line x1="209.2" y1="410.07" x2="210.8" y2="410.07" stroke="#777" stroke-width="0.8"/>
<text x="207" y="411.92" font-size="5.2" text-anchor="end" font-weight="normal" font-style="normal" fill="#222" stroke="#222" stroke-width="0.18">4</text>
<line x1="209.2" y1="395.16" x2="210.8" y2="395.16" stroke="#777" stroke-width="0.8"/>
<text x="207" y="397.01" font-size="5.2" text-anchor="end" font-weight="normal" font-style="normal" fill="#222" stroke="#222" stroke-width="0.18">6</text>
<line x1="209.2" y1="380.24" x2="210.8" y2="380.24" stroke="#777" stroke-width="0.8"/>
<text x="207" y="382.09" font-size="5.2" text-anchor="end" font-weight="normal" font-style="normal" fill="#222" stroke="#222" stroke-width="0.18">8</text>
<line x1="209.2" y1="365.33" x2="210.8" y2="365.33" stroke="#777" stroke-width="0.8"/>
<text x="207" y="367.18" font-size="5.2" text-anchor="end" font-weight="normal" font-style="normal" fill="#222" stroke="#222" stroke-width="0.18">10</text>
<line x1="209.2" y1="350.41" x2="210.8" y2="350.41" stroke="#777" stroke-width="0.8"/>
<text x="207" y="352.26" font-size="5.2" text-anchor="end" font-weight="normal" font-style="normal" fill="#222" stroke="#222" stroke-width="0.18">12</text>
<line x1="209.2" y1="335.5" x2="210.8" y2="335.5" stroke="#777" stroke-width="0.8"/>
<text x="207" y="337.35" font-size="5.2" text-anchor="end" font-weight="normal" font-style="normal" fill="#222" stroke="#222" stroke-width="0.18">14</text>
<line x1="247.3" y1="440.2" x2="247.3" y2="441.8" stroke="#777" stroke-width="0.8"/>
<line x1="283.4" y1="440.2" x2="283.4" y2="441.8" stroke="#777" stroke-width="0.8"/>
<line x1="319.5" y1="440.2" x2="319.5" y2="441.8" stroke="#777" stroke-width="0.8"/>
<text x="291.9" y="332.55" font-size="7.42" text-anchor="middle" font-weight="bold" font-style="normal" fill="#000">Complete fixation time (s)</text>
<text transform="translate(195.5 387.5) rotate(-90) scale(1.05 1)" font-size="7.1" text-anchor="middle" fill="#111" stroke="#111" stroke-width="0.1">Fixation time (s)</text>
<text x="317.1" y="348.6" font-size="6.45" text-anchor="start" font-weight="normal" font-style="italic" fill="#111" stroke="#111" stroke-width="0.1">P&lt;0.001*</text>
<text x="252.4" y="451.55" font-size="6.05" text-anchor="middle" font-weight="normal" font-style="normal" fill="#222" stroke="#222" stroke-width="0.15">Near</text>
<text x="291.3" y="451.55" font-size="6.05" text-anchor="middle" font-weight="normal" font-style="normal" fill="#222" stroke="#222" stroke-width="0.15">Balance</text>
<text x="323.8" y="451.55" font-size="6.05" text-anchor="middle" font-weight="normal" font-style="normal" fill="#222" stroke="#222" stroke-width="0.15">Distance</text>
<text x="285" y="465.1" font-size="7.0" text-anchor="middle" font-weight="normal" font-style="normal" fill="#111" stroke="#111" stroke-width="0.1">PPL</text>
<polyline points="247.3,386.1 283.4,379.4 319.5,370.4" fill="none" stroke="#1a1a1a" stroke-width="0.95"/>
<polyline points="247.3,399.4 283.4,391.2 319.5,387.5" fill="none" stroke="#8c8c8c" stroke-width="0.8" stroke-dasharray="0.9 0.7"/>
<polyline points="247.3,407.5 283.4,402.4 319.5,399.1" fill="none" stroke="#1a1a1a" stroke-width="1.0" stroke-dasharray="3.0 1.6"/>
<circle cx="247.3" cy="386.1" r="1.55" fill="#111"/>
<circle cx="283.4" cy="379.4" r="1.55" fill="#111"/>
<circle cx="319.5" cy="370.4" r="1.55" fill="#111"/>
<circle cx="247.3" cy="399.4" r="1.32" fill="#fff" stroke="#222" stroke-width="0.85"/>
<circle cx="283.4" cy="391.2" r="1.32" fill="#fff" stroke="#222" stroke-width="0.85"/>
<circle cx="319.5" cy="387.5" r="1.32" fill="#fff" stroke="#222" stroke-width="0.85"/>
<polygon points="245.61,406.47 248.99,406.47 247.3,409.33" fill="#111"/>
<polygon points="281.71,401.37 285.09,401.37 283.4,404.23" fill="#111"/>
<polygon points="317.81,398.07 321.19,398.07 319.5,400.93" fill="#111"/>
<rect x="310.3" y="415.8" width="42.9" height="21.8" fill="#fff" stroke="#8c8c8c" stroke-width="0.7"/>
<polyline points="313.7,421.6 328,421.6" fill="none" stroke="#1a1a1a" stroke-width="1.3"/>
<circle cx="320.85" cy="421.6" r="1.48" fill="#111"/>
<text x="331.2" y="423.05" font-size="4.35" text-anchor="start" font-weight="normal" font-style="normal" fill="#333" stroke="#333" stroke-width="0.12">VA max</text>
<polyline points="313.7,426.95 328,426.95" fill="none" stroke="#999" stroke-width="0.75" stroke-dasharray="0.9 0.7"/>
<circle cx="320.85" cy="426.95" r="1.26" fill="#fff" stroke="#222" stroke-width="0.85"/>
<text x="331.2" y="428.4" font-size="4.35" text-anchor="start" font-weight="normal" font-style="normal" fill="#333" stroke="#333" stroke-width="0.12">VA max-1</text>
<polyline points="313.7,432.35 328,432.35" fill="none" stroke="#1a1a1a" stroke-width="1.0" stroke-dasharray="3.1 1.6"/>
<polygon points="319.23,431.36 322.47,431.36 320.85,434.11" fill="#111"/>
<text x="331.2" y="433.8" font-size="4.35" text-anchor="start" font-weight="normal" font-style="normal" fill="#333" stroke="#333" stroke-width="0.12">VA max-2</text>
</g>
<g>
<rect x="381" y="335.5" width="144.5" height="104.4" fill="none" stroke="#a3a3a3" stroke-width="1.35"/>
<line x1="379.1" y1="439.9" x2="380.7" y2="439.9" stroke="#777" stroke-width="0.8"/>
<text x="376.9" y="441.75" font-size="5.2" text-anchor="end" font-weight="normal" font-style="normal" fill="#222" stroke="#222" stroke-width="0.18">0</text>
<line x1="379.1" y1="426.85" x2="380.7" y2="426.85" stroke="#777" stroke-width="0.8"/>
<text x="376.9" y="428.7" font-size="5.2" text-anchor="end" font-weight="normal" font-style="normal" fill="#222" stroke="#222" stroke-width="0.18">2</text>
<line x1="379.1" y1="413.8" x2="380.7" y2="413.8" stroke="#777" stroke-width="0.8"/>
<text x="376.9" y="415.65" font-size="5.2" text-anchor="end" font-weight="normal" font-style="normal" fill="#222" stroke="#222" stroke-width="0.18">4</text>
<line x1="379.1" y1="400.75" x2="380.7" y2="400.75" stroke="#777" stroke-width="0.8"/>
<text x="376.9" y="402.6" font-size="5.2" text-anchor="end" font-weight="normal" font-style="normal" fill="#222" stroke="#222" stroke-width="0.18">6</text>
<line x1="379.1" y1="387.7" x2="380.7" y2="387.7" stroke="#777" stroke-width="0.8"/>
<text x="376.9" y="389.55" font-size="5.2" text-anchor="end" font-weight="normal" font-style="normal" fill="#222" stroke="#222" stroke-width="0.18">8</text>
<line x1="379.1" y1="374.65" x2="380.7" y2="374.65" stroke="#777" stroke-width="0.8"/>
<text x="376.9" y="376.5" font-size="5.2" text-anchor="end" font-weight="normal" font-style="normal" fill="#222" stroke="#222" stroke-width="0.18">10</text>
<line x1="379.1" y1="361.6" x2="380.7" y2="361.6" stroke="#777" stroke-width="0.8"/>
<text x="376.9" y="363.45" font-size="5.2" text-anchor="end" font-weight="normal" font-style="normal" fill="#222" stroke="#222" stroke-width="0.18">12</text>
<line x1="379.1" y1="348.55" x2="380.7" y2="348.55" stroke="#777" stroke-width="0.8"/>
<text x="376.9" y="350.4" font-size="5.2" text-anchor="end" font-weight="normal" font-style="normal" fill="#222" stroke="#222" stroke-width="0.18">14</text>
<line x1="379.1" y1="335.5" x2="380.7" y2="335.5" stroke="#777" stroke-width="0.8"/>
<text x="376.9" y="337.35" font-size="5.2" text-anchor="end" font-weight="normal" font-style="normal" fill="#222" stroke="#222" stroke-width="0.18">16</text>
<line x1="417.2" y1="440.2" x2="417.2" y2="441.8" stroke="#777" stroke-width="0.8"/>
<line x1="453.3" y1="440.2" x2="453.3" y2="441.8" stroke="#777" stroke-width="0.8"/>
<line x1="489.4" y1="440.2" x2="489.4" y2="441.8" stroke="#777" stroke-width="0.8"/>
<text x="461.8" y="332.55" font-size="7.42" text-anchor="middle" font-weight="bold" font-style="normal" fill="#000">Fixation count</text>
<text transform="translate(365.4 387.5) rotate(-90) scale(1.05 1)" font-size="7.1" text-anchor="middle" fill="#111" stroke="#111" stroke-width="0.1">Fixation count</text>
<text x="487" y="348.6" font-size="6.45" text-anchor="start" font-weight="normal" font-style="italic" fill="#111" stroke="#111" stroke-width="0.1">P&lt;0.001*</text>
<text x="422.3" y="451.55" font-size="6.05" text-anchor="middle" font-weight="normal" font-style="normal" fill="#222" stroke="#222" stroke-width="0.15">Near</text>
<text x="461.2" y="451.55" font-size="6.05" text-anchor="middle" font-weight="normal" font-style="normal" fill="#222" stroke="#222" stroke-width="0.15">Balance</text>
<text x="493.7" y="451.55" font-size="6.05" text-anchor="middle" font-weight="normal" font-style="normal" fill="#222" stroke="#222" stroke-width="0.15">Distance</text>
<text x="454.9" y="465.1" font-size="7.0" text-anchor="middle" font-weight="normal" font-style="normal" fill="#111" stroke="#111" stroke-width="0.1">PPL</text>
<polyline points="417.2,378.8 453.3,364.1 489.4,354.3" fill="none" stroke="#1a1a1a" stroke-width="0.95"/>
<polyline points="417.2,385.2 453.3,373 489.4,364.5" fill="none" stroke="#8c8c8c" stroke-width="0.8" stroke-dasharray="0.9 0.7"/>
<polyline points="417.2,390.6 453.3,380.2 489.4,370.6" fill="none" stroke="#1a1a1a" stroke-width="1.0" stroke-dasharray="3.0 1.6"/>
<circle cx="417.2" cy="378.8" r="1.39" fill="#111"/>
<circle cx="453.3" cy="364.1" r="1.39" fill="#111"/>
<circle cx="489.4" cy="354.3" r="1.39" fill="#111"/>
<circle cx="417.2" cy="385.2" r="1.18" fill="#fff" stroke="#222" stroke-width="0.85"/>
<circle cx="453.3" cy="373" r="1.18" fill="#fff" stroke="#222" stroke-width="0.85"/>
<circle cx="489.4" cy="364.5" r="1.18" fill="#fff" stroke="#222" stroke-width="0.85"/>
<polygon points="415.69,389.68 418.71,389.68 417.2,392.24" fill="#111"/>
<polygon points="451.79,379.28 454.81,379.28 453.3,381.84" fill="#111"/>
<polygon points="487.89,369.68 490.91,369.68 489.4,372.24" fill="#111"/>
<rect x="481" y="415.8" width="42.2" height="21.8" fill="#fff" stroke="#8c8c8c" stroke-width="0.7"/>
<polyline points="484.4,421.6 498.7,421.6" fill="none" stroke="#1a1a1a" stroke-width="1.3"/>
<circle cx="491.55" cy="421.6" r="1.48" fill="#111"/>
<text x="501.9" y="423.05" font-size="4.35" text-anchor="start" font-weight="normal" font-style="normal" fill="#333" stroke="#333" stroke-width="0.12">VA max</text>
<polyline points="484.4,426.95 498.7,426.95" fill="none" stroke="#999" stroke-width="0.75" stroke-dasharray="0.9 0.7"/>
<circle cx="491.55" cy="426.95" r="1.26" fill="#fff" stroke="#222" stroke-width="0.85"/>
<text x="501.9" y="428.4" font-size="4.35" text-anchor="start" font-weight="normal" font-style="normal" fill="#333" stroke="#333" stroke-width="0.12">VA max-1</text>
<polyline points="484.4,432.35 498.7,432.35" fill="none" stroke="#1a1a1a" stroke-width="1.0" stroke-dasharray="3.1 1.6"/>
<polygon points="489.93,431.36 493.17,431.36 491.55,434.11" fill="#111"/>
<text x="501.9" y="433.8" font-size="4.35" text-anchor="start" font-weight="normal" font-style="normal" fill="#333" stroke="#333" stroke-width="0.12">VA max-2</text>
</g>
</svg></body></html>
